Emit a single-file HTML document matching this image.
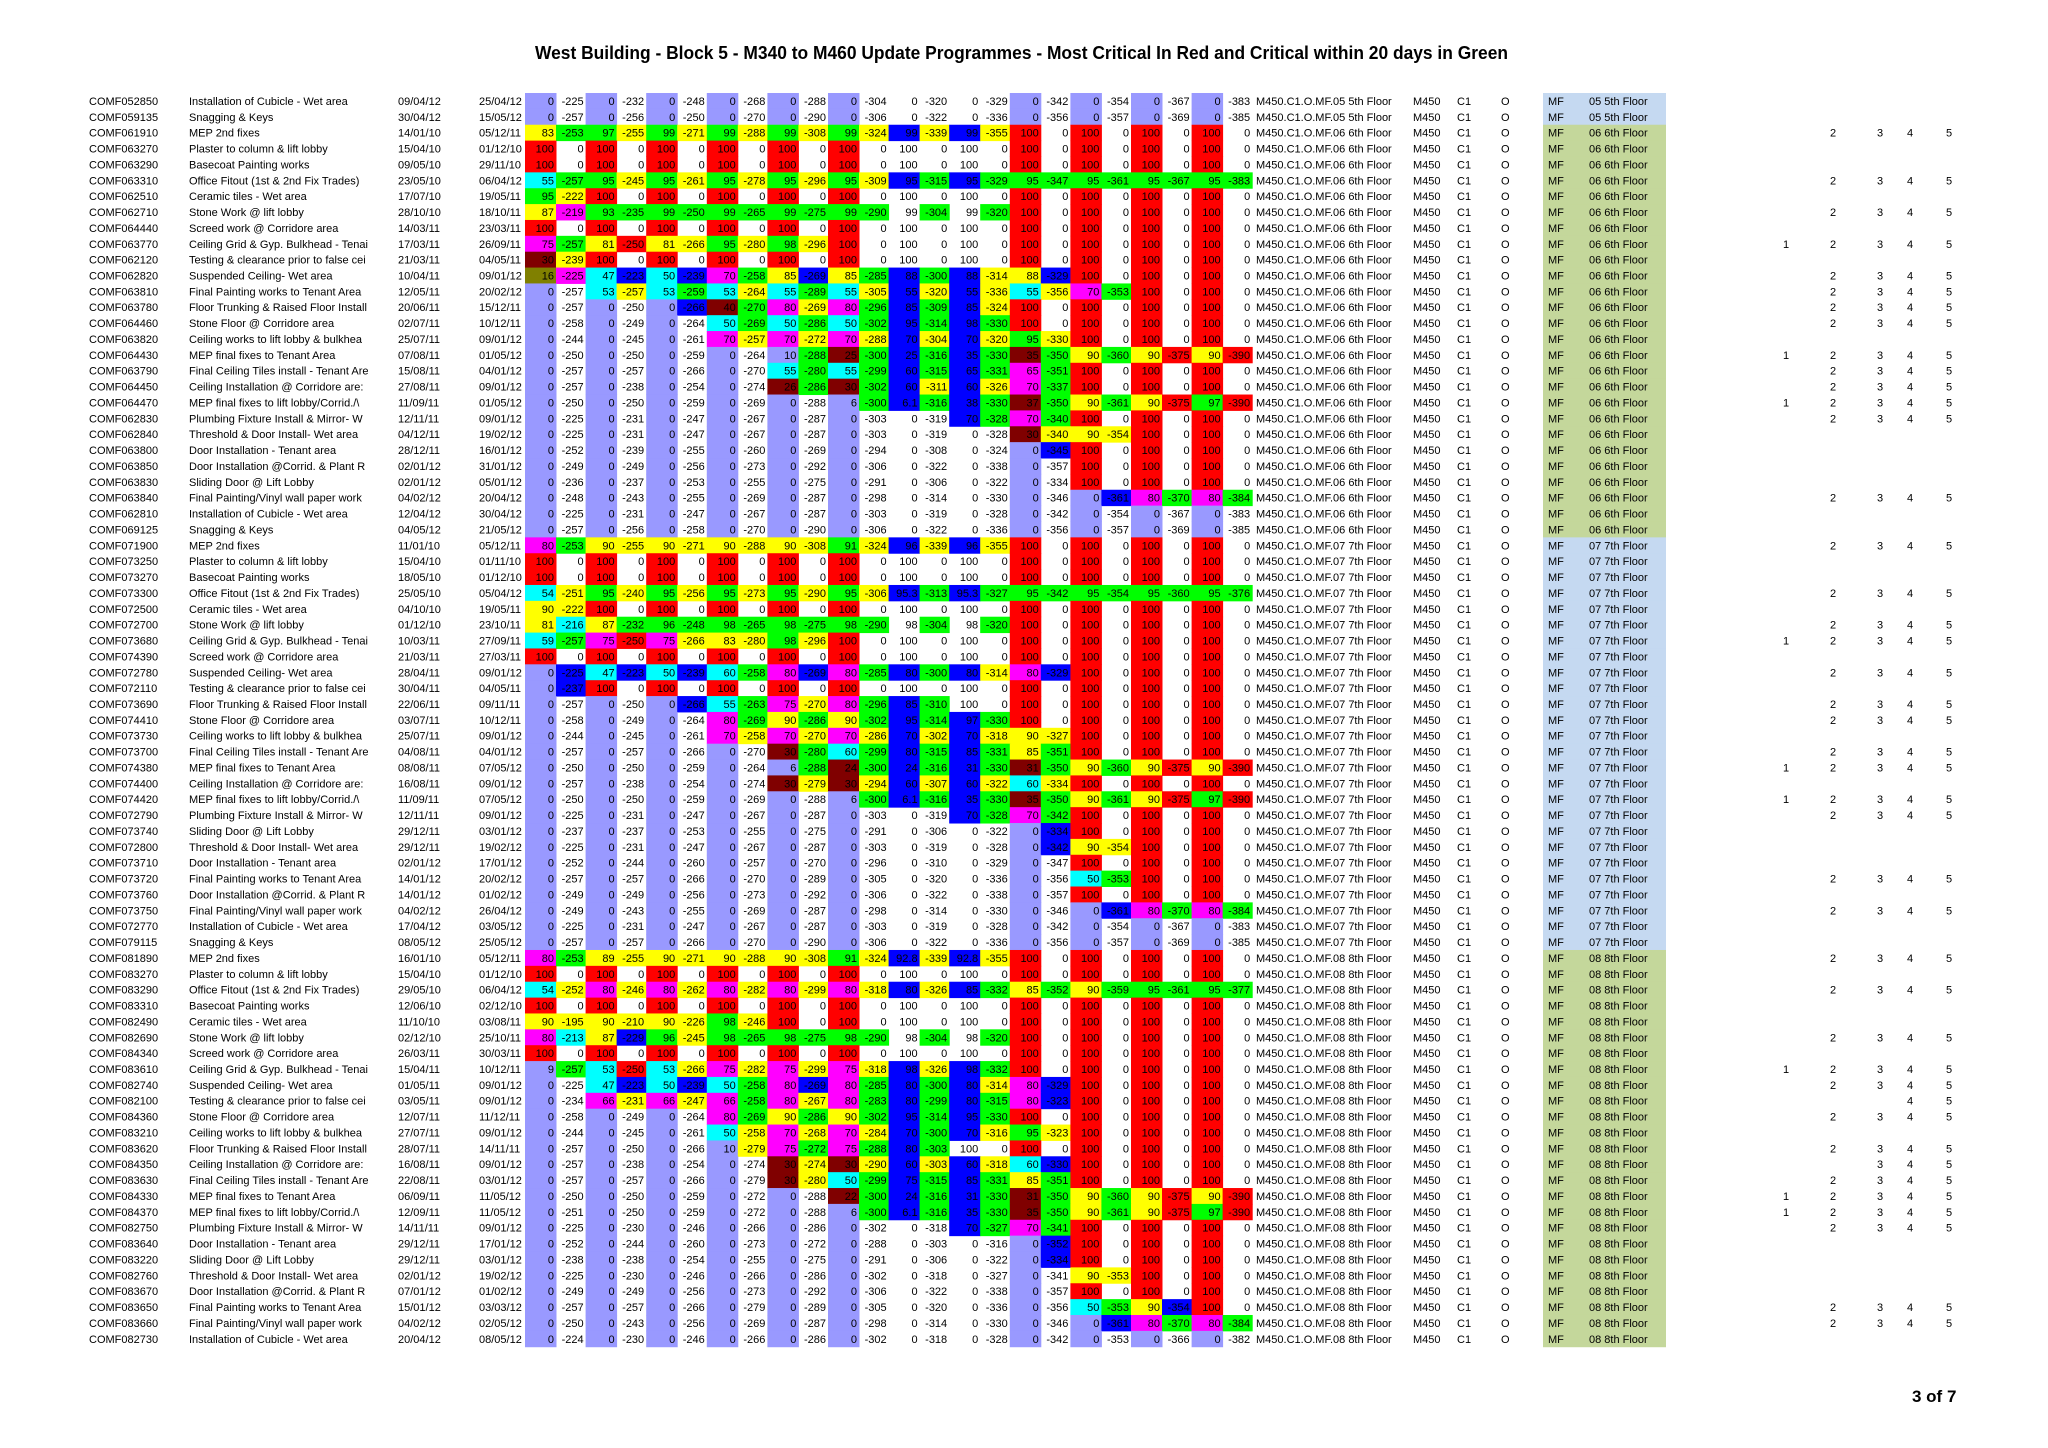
<!DOCTYPE html>
<html><head><meta charset="utf-8">
<style>
html,body{margin:0;padding:0;background:#fff;}
svg{display:block;font-family:"Liberation Sans",sans-serif;}
</style></head>
<body>
<svg id="sheet" width="2048" height="1448" viewBox="0 0 2048 1448" xmlns="http://www.w3.org/2000/svg">
<rect width="2048" height="1448" fill="#fff"/>
<text x="535" y="59" font-size="18" font-weight="bold" textLength="973" lengthAdjust="spacingAndGlyphs">West Building  - Block 5 - M340 to M460 Update Programmes - Most Critical In Red and Critical within 20 days in Green</text>
<text x="1912" y="1402" font-size="17" font-weight="bold">3 of 7</text>
<g id="rows"></g>
</svg>
<script>
const ids=["COMF052850","COMF059135","COMF061910","COMF063270","COMF063290","COMF063310","COMF062510","COMF062710","COMF064440","COMF063770","COMF062120","COMF062820","COMF063810","COMF063780","COMF064460","COMF063820","COMF064430","COMF063790","COMF064450","COMF064470","COMF062830","COMF062840","COMF063800","COMF063850","COMF063830","COMF063840","COMF062810","COMF069125","COMF071900","COMF073250","COMF073270","COMF073300","COMF072500","COMF072700","COMF073680","COMF074390","COMF072780","COMF072110","COMF073690","COMF074410","COMF073730","COMF073700","COMF074380","COMF074400","COMF074420","COMF072790","COMF073740","COMF072800","COMF073710","COMF073720","COMF073760","COMF073750","COMF072770","COMF079115","COMF081890","COMF083270","COMF083290","COMF083310","COMF082490","COMF082690","COMF084340","COMF083610","COMF082740","COMF082100","COMF084360","COMF083210","COMF083620","COMF084350","COMF083630","COMF084330","COMF084370","COMF082750","COMF083640","COMF083220","COMF082760","COMF083670","COMF083650","COMF083660","COMF082730"];
const descs=["Installation of Cubicle - Wet area","Snagging & Keys","MEP 2nd fixes","Plaster to column & lift lobby","Basecoat Painting works","Office Fitout (1st & 2nd Fix Trades)","Ceramic tiles - Wet area","Stone Work @ lift lobby","Screed work @ Corridore area","Ceiling Grid & Gyp. Bulkhead - Tenai","Testing & clearance prior to false cei","Suspended Ceiling- Wet area","Final Painting works to Tenant Area","Floor Trunking & Raised Floor Install","Stone Floor @ Corridore area","Ceiling works to lift lobby & bulkhea","MEP final fixes to Tenant Area","Final Ceiling Tiles install - Tenant Are","Ceiling Installation @ Corridore are:","MEP final fixes to lift lobby/Corrid./\\","Plumbing Fixture Install & Mirror- W","Threshold & Door Install- Wet area","Door Installation - Tenant area","Door Installation @Corrid. & Plant R","Sliding Door @ Lift Lobby","Final Painting/Vinyl wall paper work","Installation of Cubicle - Wet area","Snagging & Keys","MEP 2nd fixes","Plaster to column & lift lobby","Basecoat Painting works","Office Fitout (1st & 2nd Fix Trades)","Ceramic tiles - Wet area","Stone Work @ lift lobby","Ceiling Grid & Gyp. Bulkhead - Tenai","Screed work @ Corridore area","Suspended Ceiling- Wet area","Testing & clearance prior to false cei","Floor Trunking & Raised Floor Install","Stone Floor @ Corridore area","Ceiling works to lift lobby & bulkhea","Final Ceiling Tiles install - Tenant Are","MEP final fixes to Tenant Area","Ceiling Installation @ Corridore are:","MEP final fixes to lift lobby/Corrid./\\","Plumbing Fixture Install & Mirror- W","Sliding Door @ Lift Lobby","Threshold & Door Install- Wet area","Door Installation - Tenant area","Final Painting works to Tenant Area","Door Installation @Corrid. & Plant R","Final Painting/Vinyl wall paper work","Installation of Cubicle - Wet area","Snagging & Keys","MEP 2nd fixes","Plaster to column & lift lobby","Office Fitout (1st & 2nd Fix Trades)","Basecoat Painting works","Ceramic tiles - Wet area","Stone Work @ lift lobby","Screed work @ Corridore area","Ceiling Grid & Gyp. Bulkhead - Tenai","Suspended Ceiling- Wet area","Testing & clearance prior to false cei","Stone Floor @ Corridore area","Ceiling works to lift lobby & bulkhea","Floor Trunking & Raised Floor Install","Ceiling Installation @ Corridore are:","Final Ceiling Tiles install - Tenant Are","MEP final fixes to Tenant Area","MEP final fixes to lift lobby/Corrid./\\","Plumbing Fixture Install & Mirror- W","Door Installation - Tenant area","Sliding Door @ Lift Lobby","Threshold & Door Install- Wet area","Door Installation @Corrid. & Plant R","Final Painting works to Tenant Area","Final Painting/Vinyl wall paper work","Installation of Cubicle - Wet area"];
const starts=["09/04/12","30/04/12","14/01/10","15/04/10","09/05/10","23/05/10","17/07/10","28/10/10","14/03/11","17/03/11","21/03/11","10/04/11","12/05/11","20/06/11","02/07/11","25/07/11","07/08/11","15/08/11","27/08/11","11/09/11","12/11/11","04/12/11","28/12/11","02/01/12","02/01/12","04/02/12","12/04/12","04/05/12","11/01/10","15/04/10","18/05/10","25/05/10","04/10/10","01/12/10","10/03/11","21/03/11","28/04/11","30/04/11","22/06/11","03/07/11","25/07/11","04/08/11","08/08/11","16/08/11","11/09/11","12/11/11","29/12/11","29/12/11","02/01/12","14/01/12","14/01/12","04/02/12","17/04/12","08/05/12","16/01/10","15/04/10","29/05/10","12/06/10","11/10/10","02/12/10","26/03/11","15/04/11","01/05/11","03/05/11","12/07/11","27/07/11","28/07/11","16/08/11","22/08/11","06/09/11","12/09/11","14/11/11","29/12/11","29/12/11","02/01/12","07/01/12","15/01/12","04/02/12","20/04/12"];
const ends=["25/04/12","15/05/12","05/12/11","01/12/10","29/11/10","06/04/12","19/05/11","18/10/11","23/03/11","26/09/11","04/05/11","09/01/12","20/02/12","15/12/11","10/12/11","09/01/12","01/05/12","04/01/12","09/01/12","01/05/12","09/01/12","19/02/12","16/01/12","31/01/12","05/01/12","20/04/12","30/04/12","21/05/12","05/12/11","01/11/10","01/12/10","05/04/12","19/05/11","23/10/11","27/09/11","27/03/11","09/01/12","04/05/11","09/11/11","10/12/11","09/01/12","04/01/12","07/05/12","09/01/12","07/05/12","09/01/12","03/01/12","19/02/12","17/01/12","20/02/12","01/02/12","26/04/12","03/05/12","25/05/12","05/12/11","01/12/10","06/04/12","02/12/10","03/08/11","25/10/11","30/03/11","10/12/11","09/01/12","09/01/12","11/12/11","09/01/12","14/11/11","09/01/12","03/01/12","11/05/12","11/05/12","09/01/12","17/01/12","03/01/12","19/02/12","01/02/12","03/03/12","02/05/12","08/05/12"];
const A100="100 0 100 0 100 0 100 0 100 0 100 0 100 0 100 0 100 0 100 0 100 0 100 0";
const cells=[
"0 -225 0 -232 0 -248 0 -268 0 -288 0 -304 0 -320 0 -329 0 -342 0 -354 0 -367 0 -383",
"0 -257 0 -256 0 -250 0 -270 0 -290 0 -306 0 -322 0 -336 0 -356 0 -357 0 -369 0 -385",
"83y -253g 97g -255y 99g -271y 99g -288y 99g -308y 99g -324y 99b -339y 99b -355y 100 0 100 0 100 0 100 0",
A100,A100,
"55c -257g 95g -245y 95g -261y 95g -278y 95g -296y 95g -309y 95b -315g 95b -329g 95g -347g 95g -361g 95g -367g 95g -383g",
"95g -222y 100 0 100 0 100 0 100 0 100 0 100 0 100 0 100 0 100 0 100 0 100 0",
"87y -219m 93g -235g 99g -250g 99g -265g 99g -275g 99g -290g 99 -304g 99 -320g 100 0 100 0 100 0 100 0",
A100,
"75m -257g 81y -250r 81y -266y 95g -280y 98g -296y 100 0 100 0 100 0 100 0 100 0 100 0 100 0",
"30d -239y 100 0 100 0 100 0 100 0 100 0 100 0 100 0 100 0 100 0 100 0 100 0",
"16o -225m 47c -223b 50c -239b 70m -258g 85y -269b 85y -285g 88b -300g 88b -314y 88y -329b 100 0 100 0 100 0",
"0 -257 53c -257y 53c -259g 53c -264y 55c -289g 55c -305y 55b -320y 55b -336y 55c -356y 70m -353g 100 0 100 0",
"0 -257 0 -250 0 -266b 40d -270g 80m -269y 80m -296g 85b -309g 85b -324y 100 0 100 0 100 0 100 0",
"0 -258 0 -249 0 -264 50c -269g 50c -286g 50c -302g 95b -314g 98b -330g 100 0 100 0 100 0 100 0",
"0 -244 0 -245 0 -261 70m -257y 70m -272y 70m -288y 70b -304y 70b -320y 95g -330y 100 0 100 0 100 0",
"0 -250 0 -250 0 -259 0 -264 10l -288g 25d -300g 25b -316g 35b -330g 35d -350g 90y -360g 90y -375r 90y -390r",
"0 -257 0 -257 0 -266 0 -270 55c -280g 55c -299g 60b -315g 65b -331g 65m -351g 100 0 100 0 100 0",
"0 -257 0 -238 0 -254 0 -274 26d -286g 30d -302g 60b -311y 60b -326y 70m -337g 100 0 100 0 100 0",
"0 -250 0 -250 0 -259 0 -269 0 -288 6l -300g 6.1b -316g 38b -330g 37d -350g 90y -361g 90y -375r 97g -390r",
"0 -225 0 -231 0 -247 0 -267 0 -287 0 -303 0 -319 70b -328g 70m -340g 100 0 100 0 100 0",
"0 -225 0 -231 0 -247 0 -267 0 -287 0 -303 0 -319 0 -328 30d -340y 90y -354y 100 0 100 0",
"0 -252 0 -239 0 -255 0 -260 0 -269 0 -294 0 -308 0 -324 0 -345b 100 0 100 0 100 0",
"0 -249 0 -249 0 -256 0 -273 0 -292 0 -306 0 -322 0 -338 0 -357 100 0 100 0 100 0",
"0 -236 0 -237 0 -253 0 -255 0 -275 0 -291 0 -306 0 -322 0 -334 100 0 100 0 100 0",
"0 -248 0 -243 0 -255 0 -269 0 -287 0 -298 0 -314 0 -330 0 -346 0 -361b 80m -370g 80m -384g",
"0 -225 0 -231 0 -247 0 -267 0 -287 0 -303 0 -319 0 -328 0 -342 0 -354 0 -367 0 -383",
"0 -257 0 -256 0 -258 0 -270 0 -290 0 -306 0 -322 0 -336 0 -356 0 -357 0 -369 0 -385",
"80m -253g 90y -255y 90y -271y 90y -288y 90y -308y 91g -324y 96b -339y 96b -355y 100 0 100 0 100 0 100 0",
A100,A100,
"54c -251y 95g -240y 95g -256y 95g -273y 95g -290y 95g -306y 95.3b -313g 95.3b -327g 95g -342g 95g -354g 95g -360g 95g -376g",
"90y -222y 100 0 100 0 100 0 100 0 100 0 100 0 100 0 100 0 100 0 100 0 100 0",
"81y -216c 87y -232g 96g -248g 98g -265g 98g -275g 98g -290g 98 -304g 98 -320g 100 0 100 0 100 0 100 0",
"59c -257g 75m -250r 75m -266y 83y -280y 98g -296y 100 0 100 0 100 0 100 0 100 0 100 0 100 0",
A100,
"0 -225b 47c -223b 50c -239b 60c -258g 80m -269b 80m -285g 80b -300g 80b -314y 80m -329b 100 0 100 0 100 0",
"0 -237b 100 0 100 0 100 0 100 0 100 0 100 0 100 0 100 0 100 0 100 0 100 0",
"0 -257 0 -250 0 -266b 55c -263g 75m -270y 80m -296g 85b -310g 100 0 100 0 100 0 100 0 100 0",
"0 -258 0 -249 0 -264 80m -269g 90y -286g 90y -302g 95b -314g 97b -330g 100 0 100 0 100 0 100 0",
"0 -244 0 -245 0 -261 70m -258y 70m -270y 70m -286y 70b -302y 70b -318y 90y -327y 100 0 100 0 100 0",
"0 -257 0 -257 0 -266 0 -270 30d -280g 60c -299g 80b -315g 85b -331g 85y -351g 100 0 100 0 100 0",
"0 -250 0 -250 0 -259 0 -264 6l -288g 24d -300g 24b -316g 31b -330g 31d -350g 90y -360g 90y -375r 90y -390r",
"0 -257 0 -238 0 -254 0 -274 30d -279y 30d -294y 60b -307y 60b -322y 60c -334y 100 0 100 0 100 0",
"0 -250 0 -250 0 -259 0 -269 0 -288 6l -300g 6.1b -316g 35b -330g 35d -350g 90y -361g 90y -375r 97g -390r",
"0 -225 0 -231 0 -247 0 -267 0 -287 0 -303 0 -319 70b -328g 70m -342g 100 0 100 0 100 0",
"0 -237 0 -237 0 -253 0 -255 0 -275 0 -291 0 -306 0 -322 0 -334b 100 0 100 0 100 0",
"0 -225 0 -231 0 -247 0 -267 0 -287 0 -303 0 -319 0 -328 0 -342b 90y -354y 100 0 100 0",
"0 -252 0 -244 0 -260 0 -257 0 -270 0 -296 0 -310 0 -329 0 -347 100 0 100 0 100 0",
"0 -257 0 -257 0 -266 0 -270 0 -289 0 -305 0 -320 0 -336 0 -356 50c -353g 100 0 100 0",
"0 -249 0 -249 0 -256 0 -273 0 -292 0 -306 0 -322 0 -338 0 -357 100 0 100 0 100 0",
"0 -249 0 -243 0 -255 0 -269 0 -287 0 -298 0 -314 0 -330 0 -346 0 -361b 80m -370g 80m -384g",
"0 -225 0 -231 0 -247 0 -267 0 -287 0 -303 0 -319 0 -328 0 -342 0 -354 0 -367 0 -383",
"0 -257 0 -257 0 -266 0 -270 0 -290 0 -306 0 -322 0 -336 0 -356 0 -357 0 -369 0 -385",
"80m -253g 89y -255y 90y -271y 90y -288y 90y -308y 91g -324y 92.8b -339y 92.8b -355y 100 0 100 0 100 0 100 0",
A100,
"54c -252y 80m -246y 80m -262y 80m -282y 80m -299y 80m -318y 80b -326y 85b -332g 85y -352g 90y -359g 95g -361g 95g -377g",
A100,
"90y -195y 90y -210y 90y -226y 98g -246y 100 0 100 0 100 0 100 0 100 0 100 0 100 0 100 0",
"80m -213c 87y -229b 96g -245y 98g -265g 98g -275g 98g -290g 98 -304g 98 -320g 100 0 100 0 100 0 100 0",
A100,
"9l -257g 53c -250r 53c -266y 75m -282y 75m -299y 75m -318y 98b -326y 98b -332g 100 0 100 0 100 0 100 0",
"0 -225 47c -223b 50c -239b 50c -258g 80m -269b 80m -285g 80b -300g 80b -314y 80m -329b 100 0 100 0 100 0",
"0 -234 66m -231y 66m -247y 66m -258g 80m -267y 80m -283g 80b -299g 80b -315g 80m -323b 100 0 100 0 100 0",
"0 -258 0 -249 0 -264 80m -269g 90y -286g 90y -302g 95b -314g 95b -330g 100 0 100 0 100 0 100 0",
"0 -244 0 -245 0 -261 50c -258y 70m -268y 70m -284y 70b -300g 70b -316y 95g -323y 100 0 100 0 100 0",
"0 -257 0 -250 0 -266 10l -279y 75m -272g 75m -288g 80b -303g 100 0 100 0 100 0 100 0 100 0",
"0 -257 0 -238 0 -254 0 -274 30d -274y 30d -290y 60b -303y 60b -318y 60c -330b 100 0 100 0 100 0",
"0 -257 0 -257 0 -266 0 -279 30d -280y 50c -299g 75b -315g 85b -331g 85y -351g 100 0 100 0 100 0",
"0 -250 0 -250 0 -259 0 -272 0 -288 22d -300g 24b -316g 31b -330g 31d -350g 90y -360g 90y -375r 90y -390r",
"0 -251 0 -250 0 -259 0 -272 0 -288 6l -300g 6.1b -316g 35b -330g 35d -350g 90y -361g 90y -375r 97g -390r",
"0 -225 0 -230 0 -246 0 -266 0 -286 0 -302 0 -318 70b -327g 70m -341g 100 0 100 0 100 0",
"0 -252 0 -244 0 -260 0 -273 0 -272 0 -288 0 -303 0 -316 0 -352b 100 0 100 0 100 0",
"0 -238 0 -238 0 -254 0 -255 0 -275 0 -291 0 -306 0 -322 0 -334b 100 0 100 0 100 0",
"0 -225 0 -230 0 -246 0 -266 0 -286 0 -302 0 -318 0 -327 0 -341 90y -353y 100 0 100 0",
"0 -249 0 -249 0 -256 0 -273 0 -292 0 -306 0 -322 0 -338 0 -357 100 0 100 0 100 0",
"0 -257 0 -257 0 -266 0 -279 0 -289 0 -305 0 -320 0 -336 0 -356 50c -353g 90y -354b 100 0",
"0 -250 0 -243 0 -256 0 -269 0 -287 0 -298 0 -314 0 -330 0 -346 0 -361b 80m -370g 80m -384g",
"0 -224 0 -230 0 -246 0 -266 0 -286 0 -302 0 -318 0 -328 0 -342 0 -353 0 -366 0 -382"
];
const flags=["","","2345","","","2345","","2345","","12345","","2345","2345","2345","2345","","12345","2345","2345","12345","2345","","","","","2345","","","2345","","","2345","","2345","12345","","2345","","2345","2345","","2345","12345","","12345","2345","","","","2345","","2345","","","2345","","2345","","","2345","","12345","2345","45","2345","","2345","345","2345","12345","12345","2345","","","","","2345","2345",""];
const floorOf=i=> i<2?"05":(i<28?"06":(i<54?"07":"08"));
const floorName={"05":"05 5th Floor","06":"06 6th Floor","07":"07 7th Floor","08":"08 8th Floor"};
const floorFill={"05":"#c5d9f1","06":"#c4d79b","07":"#c5d9f1","08":"#c4d79b"};
const colors={y:"#ffff00",g:"#00ff00",r:"#ff0000",c:"#00ffff",m:"#ff00ff",b:"#0000ff",d:"#800000",o:"#808000",l:"#9999ff",w:"#ffffff"};
const NS="http://www.w3.org/2000/svg";
const g=document.getElementById("rows");
const ROW0=93, RH=15.87, PX0=525, PP=60.6, PW=31;
const numX={"1":1786,"2":1833,"3":1880,"4":1910,"5":1949};
function txt(x,y,s,anchor){const t=document.createElementNS(NS,"text");t.setAttribute("x",x);t.setAttribute("y",y);t.setAttribute("font-size","11");if(anchor)t.setAttribute("text-anchor",anchor);t.textContent=s;return t;}
function rect(x,y,w,h,f){const r=document.createElementNS(NS,"rect");r.setAttribute("x",x);r.setAttribute("y",y);r.setAttribute("width",w);r.setAttribute("height",h);r.setAttribute("fill",f);return r;}
const clip=document.createElementNS(NS,"clipPath");clip.setAttribute("id","descclip");clip.appendChild(rect(185,0,208,1448,"#000"));document.getElementById("sheet").appendChild(clip);
for(let i=0;i<ids.length;i++){
  const top=ROW0+i*RH, by=top+RH/2+4;
  const row=document.createElementNS(NS,"g");
  
  
  const toks=cells[i].split(/\s+/);
  toks.forEach((tk,k)=>{
    const m=tk.match(/^(-?[\d.]+)([a-z]?)$/);const v=m[1];let c=m[2];const p=Math.floor(k/2);const isPct=k%2===0;
    if(!c){ if(isPct){ if(v==="0") c=(p===6||p===7)?"w":"l"; else if(v==="100") c=(p===6||p===7)?"w":"r"; else c="w";} else c="w"; }
    const x=PX0+p*PP+(isPct?0:PW), w=isPct?PW:PP-PW;
    if(c!=="w"){const r=rect(x,top,w+0.5,RH+0.5,colors[c]);
      
      
      row.appendChild(r);}
    const t=txt(x+w-2,by,v,"end");
    
    
    row.appendChild(t);
  });
  const fl=floorOf(i);
  const fr=rect(1543,top,123,RH+0.5,floorFill[fl]);
  
  
  row.appendChild(fr);
  const items=[[89,ids[i],'activity-id'],[398,starts[i],'start-date'],[479,ends[i],'finish-date'],[1256,"M450.C1.O.MF."+floorName[fl],'location-code'],[1413,"M450",'zone-code'],[1457,"C1",'block-code'],[1501,"O",'type-code'],[1548,"MF",'mf-code'],[1589,floorName[fl],'floor-name']];
  items.forEach(([x,s,n])=>{const t=txt(x,by,s);
    
    
    row.appendChild(t);});
  const d=txt(189,by,descs[i]);d.setAttribute("clip-path","url(#descclip)");
  
  
  row.appendChild(d);
  for(const ch of flags[i]){const t=txt(numX[ch],by,ch,"middle");
    
    
    row.appendChild(t);}
  g.appendChild(row);
}
</script>
</body></html>
